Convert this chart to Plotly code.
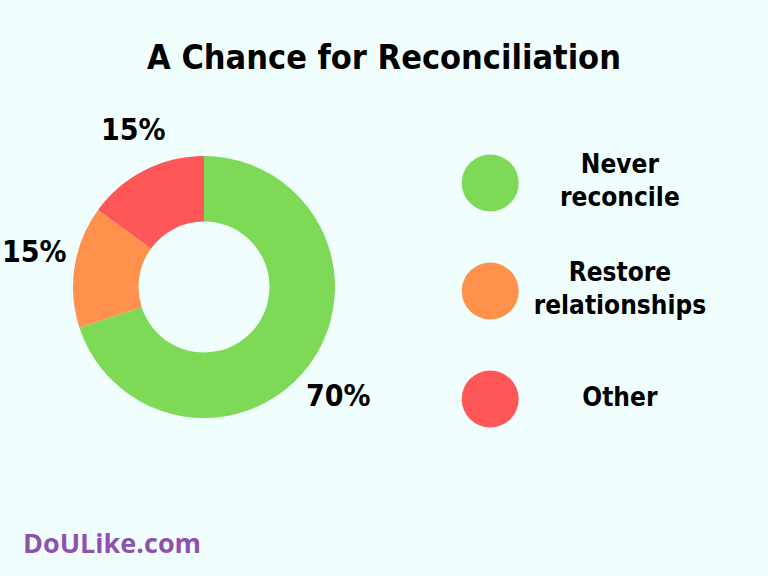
import numpy as np
import plotly.graph_objects as go

# Data
labels = ["Never reconcile", "Restore relationships", "Other"]
legend_text = ["Never<br>reconcile", "Restore<br>relationships", "Other"]
values = [70, 15, 15]
colors = ["#7ED957", "#FF914D", "#FF5757"]

W, H = 768, 576
bg = "#F0FFFE"
cond_font = "DejaVu Sans Condensed, Roboto, sans-serif"

# donut geometry (pixels)
cx, cy, r = 204, 287, 131
label_r = 1.32 * r
label_rot = np.radians(3)

fig = go.Figure()

# Donut
fig.add_trace(go.Pie(
    labels=labels,
    values=values,
    hole=0.5,
    sort=False,
    direction="clockwise",
    rotation=0,
    marker=dict(colors=colors, line=dict(width=0)),
    textinfo="none",
    domain=dict(x=[(cx - r) / W, (cx + r) / W], y=[1 - (cy + r) / H, 1 - (cy - r) / H]),
    showlegend=False,
))

# percent labels placed outside at slice mid-angles
total = sum(values)
cum = np.cumsum(values) - np.array(values) / 2
annotations = []
for v, c in zip(values, cum):
    theta = 2 * np.pi * c / total + label_rot  # clockwise from 12 o'clock
    x_px = cx + label_r * np.sin(theta)
    y_px = cy - label_r * np.cos(theta)
    annotations.append(dict(
        text=f"<b>{v / total:.0%}</b>", x=x_px / W, y=1 - y_px / H,
        xref="paper", yref="paper", xanchor="center", yanchor="middle",
        showarrow=False, font=dict(family=cond_font, size=30, color="black"),
    ))

# Custom legend: big circles + centered labels
legend_y = [2, 1, 0]
fig.add_trace(go.Scatter(
    x=[0, 0, 0], y=legend_y,
    mode="markers",
    marker=dict(size=57, color=colors),
    showlegend=False, hoverinfo="skip",
))
fig.add_trace(go.Scatter(
    x=[1, 1, 1], y=legend_y,
    mode="text",
    text=["<b>" + t + "</b>" for t in legend_text],
    textposition="middle center",
    textfont=dict(family=cond_font, size=26, color="black"),
    showlegend=False, hoverinfo="skip",
))

annotations.append(dict(
    text="<b>DoULike.com</b>", x=21 / W, y=1 - 542 / H, xref="paper", yref="paper",
    xanchor="left", yanchor="middle", showarrow=False,
    font=dict(family="Open Sans", size=27, color="#9050B0"),
))

fig.update_layout(
    width=W, height=H,
    paper_bgcolor=bg, plot_bgcolor=bg,
    margin=dict(l=0, r=0, t=0, b=0),
    title=dict(
        text="<b>A Chance for Reconciliation</b>",
        x=0.5, xanchor="center", y=1 - 57 / H, yanchor="middle",
        font=dict(family=cond_font, size=34, color="black"),
    ),
    xaxis=dict(domain=[0.55, 0.95], range=[-0.523, 1.846], visible=False, fixedrange=True),
    yaxis=dict(domain=[0.2, 0.85], range=[-0.572, 2.894], visible=False, fixedrange=True),
    annotations=annotations,
)

fig.write_html("out.html", config=dict(displayModeBar=False))
# remove default page margin so the figure fills the window
with open("out.html", "r", encoding="utf-8") as f:
    html = f.read()
html = html.replace("<head>", "<head><style>body{margin:0;}</style>", 1)
with open("out.html", "w", encoding="utf-8") as f:
    f.write(html)
